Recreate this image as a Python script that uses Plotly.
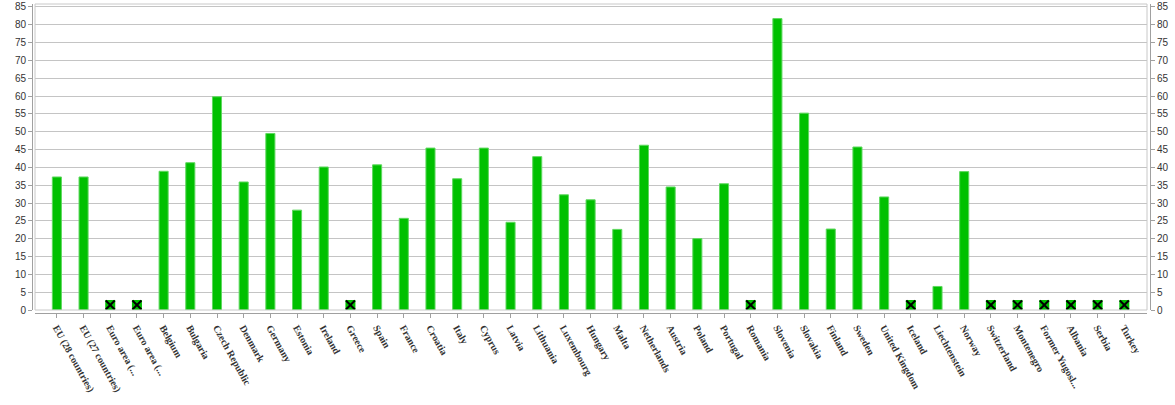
import plotly.graph_objects as go

categories = [
    "EU (28 countries)", "EU (27 countries)", "Euro area (...", "Euro area (...",
    "Belgium", "Bulgaria", "Czech Republic", "Denmark", "Germany", "Estonia",
    "Ireland", "Greece", "Spain", "France", "Croatia", "Italy", "Cyprus", "Latvia",
    "Lithuania", "Luxembourg", "Hungary", "Malta", "Netherlands", "Austria",
    "Poland", "Portugal", "Romania", "Slovenia", "Slovakia", "Finland", "Sweden",
    "United Kingdom", "Iceland", "Liechtenstein", "Norway", "Switzerland",
    "Montenegro", "Former Yugosl...", "Albania", "Serbia", "Turkey",
]
values = [
    37.3, 37.3, None, None,
    38.9, 41.3, 59.8, 35.9, 49.5, 28.0,
    40.1, None, 40.7, 25.7, 45.4, 36.8, 45.4, 24.6,
    43.0, 32.3, 30.9, 22.6, 46.2, 34.5,
    20.0, 35.4, None, 81.7, 55.2, 22.7, 45.7,
    31.7, None, 6.6, 38.8, None,
    None, None, None, None, None,
]
y_ticks = list(range(0, 90, 5))

# style constants
BAR_COLOR = "#00c000"
BAR_EDGE = "#5fd85f"
GRID = "#c4c4c4"
AXIS = "#a0a0a0"
MISSING_Y = 1.4

idx = list(range(len(categories)))
missing_idx = [i for i, v in zip(idx, values) if v is None]

W, H = 1175, 405
ml, mr, mt, mb = 32, 25, 4, 92
pw = W - ml - mr
ph = H - mt - mb
gap = 3

fig = go.Figure()
fig.add_trace(go.Bar(
    x=idx, y=values, width=0.34,
    marker=dict(color=BAR_COLOR, line=dict(color=BAR_EDGE, width=1)),
    hoverinfo="skip", showlegend=False,
))
fig.add_trace(go.Scatter(
    x=missing_idx, y=[MISSING_Y] * len(missing_idx), mode="markers",
    marker=dict(symbol="square", size=10, color=BAR_COLOR, line=dict(width=0)),
    hoverinfo="skip", showlegend=False,
))
fig.add_trace(go.Scatter(
    x=missing_idx, y=[MISSING_Y] * len(missing_idx), mode="markers",
    marker=dict(symbol="x-thin", size=9, color="#000000",
                line=dict(width=2, color="#000000")),
    hoverinfo="skip", showlegend=False,
))
fig.add_trace(go.Scatter(x=[0], y=[0], yaxis="y2", mode="markers",
                         marker=dict(opacity=0), hoverinfo="skip", showlegend=False))

yr = [0, 85.8]
tickfont = dict(family="Liberation Sans", size=10, color="#333333")
fig.update_layout(
    width=W, height=H,
    margin=dict(l=ml, r=mr, t=mt, b=mb, autoexpand=False),
    paper_bgcolor="white", plot_bgcolor="white",
    bargap=0,
    xaxis=dict(
        domain=[gap / pw, 1 - gap / pw],
        range=[-0.82, 40.85],
        tickmode="array", tickvals=idx, ticktext=categories,
        tickangle=61,
        tickfont=dict(family="Liberation Serif", size=10, color="#333333",
                      weight="bold"),
        showgrid=False, zeroline=False,
        showline=True, linecolor=AXIS, linewidth=1,
        ticks="outside", ticklen=4, tickcolor=AXIS,
        anchor="free", position=0, automargin=False,
    ),
    yaxis=dict(
        domain=[gap / ph, 1],
        range=yr, tickvals=y_ticks,
        tickfont=tickfont,
        showgrid=True, gridcolor=GRID, gridwidth=1,
        zeroline=False,
        showline=True, linecolor=AXIS, linewidth=1,
        ticks="outside", ticklen=4, tickcolor=AXIS,
        anchor="free", position=0, automargin=False,
    ),
    yaxis2=dict(
        overlaying="y", side="right", matches="y",
        range=yr, tickvals=y_ticks,
        tickfont=tickfont,
        showgrid=False, zeroline=False,
        showline=True, linecolor=AXIS, linewidth=1,
        ticks="outside", ticklen=4, tickcolor=AXIS,
        anchor="free", position=1, automargin=False,
    ),
    shapes=[dict(type="rect", xref="x domain", yref="y domain",
                 x0=0, x1=1, y0=0, y1=1,
                 line=dict(color="#c8c8c8", width=1), layer="above")],
)

fig.write_html(
    "out.html",
    config={"displayModeBar": False, "staticPlot": True},
    post_script="document.body.style.margin='0';document.body.style.overflow='hidden';",
)
